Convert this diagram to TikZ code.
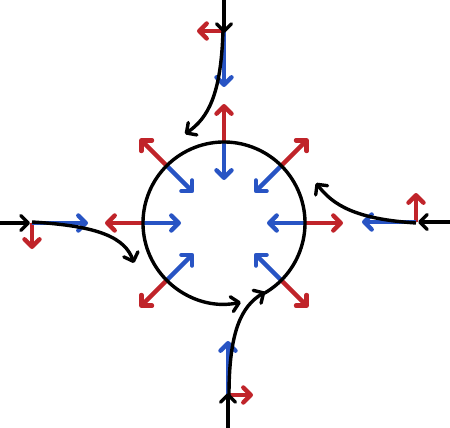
\documentclass[tikz,border=0pt]{standalone}
\usetikzlibrary{arrows.meta}
\definecolor{myred}{RGB}{192,36,42}
\definecolor{myblue}{RGB}{40,84,196}
\begin{document}
\begin{tikzpicture}[x=1pt,y=-1pt,
  barb/.tip={Straight Barb[length=7.5pt,width=15pt,line cap=round,line join=round]},
  flow/.style={line width=3.4pt,-barb,black},
  redarr/.style={line width=4.4pt,-barb,myred},
  bluearr/.style={line width=4.4pt,-barb,myblue}]
\useasboundingbox (0,0) rectangle (450,428);
\coordinate (C) at (224,223);
% radial arrows
\foreach \a in {0,45,135,180,225,270,315}{
  \draw[redarr] ([shift={(\a:81)}]C) -- ([shift={(\a:119)}]C);
  \draw[bluearr] ([shift={(\a:81)}]C) -- ([shift={(\a:43)}]C);
}
% circle flow
\draw[flow] ([shift={(60:81)}]C) arc[start angle=60, end angle=-282, radius=81];
% top inlet
\coordinate (T0) at (224,0);
\coordinate (T1) at (224,31);
\coordinate (Tr) at (197,31);
\coordinate (Tb) at (224,87);
\coordinate (Te) at (185,134);
\draw[redarr] (T1) -- (Tr);
\draw[bluearr] (T1) -- (Tb);
\draw[flow] (T0) -- ([yshift=-2]T1);
\draw[flow] ([xshift=-1]T1) .. controls (221,95) and (208,118) .. (Te);
% left inlet
\coordinate (L0) at (0,223);
\coordinate (L1) at (32,223);
\coordinate (Lr) at (32,249);
\coordinate (Lb) at (88,223);
\coordinate (Le) at (134,263);
\draw[redarr] (L1) -- (Lr);
\draw[bluearr] (L1) -- (Lb);
\draw[flow] (L0) -- ([xshift=-2]L1);
\draw[flow] ([yshift=1]L1) .. controls (100,226) and (125,238) .. (Le);
% right inlet
\coordinate (R0) at (450,222);
\coordinate (R1) at (416,222);
\coordinate (Rr) at (416,193);
\coordinate (Rb) at (362,222);
\coordinate (Re) at (316,183);
\draw[redarr] (R1) -- (Rr);
\draw[bluearr] (R1) -- (Rb);
\draw[flow] (R0) -- ([xshift=2]R1);
\draw[flow] ([yshift=-1]R1) .. controls (355,219) and (333,205) .. (Re);
% bottom inlet
\coordinate (B0) at (228,428);
\coordinate (B1) at (228,395);
\coordinate (Br) at (253,395);
\coordinate (Bb) at (228,341);
\coordinate (Be) at (265,292);
\draw[redarr] (B1) -- (Br);
\draw[bluearr] (B1) -- (Bb);
\draw[flow] (B0) -- ([yshift=2]B1);
\draw[flow] ([xshift=1]B1) .. controls (229,330) and (242,306) .. (Be);
\end{tikzpicture}
\end{document}
